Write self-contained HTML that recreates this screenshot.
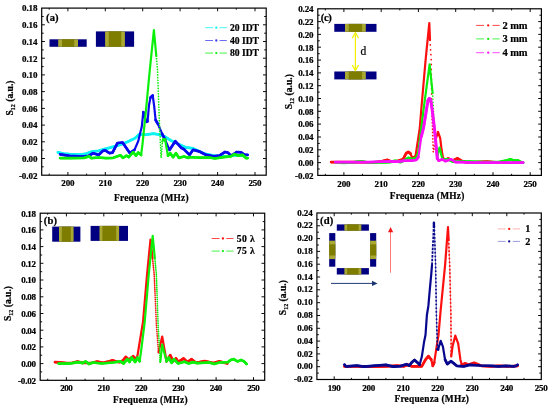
<!DOCTYPE html>
<html><head><meta charset="utf-8"><title>S12 vs Frequenza</title>
<style>
html,body{margin:0;padding:0;background:#fff;}
svg{display:block;font-family:'Liberation Serif','DejaVu Serif',serif;}
text{fill:#000;stroke:#000;stroke-width:0.22px;}
</style></head>
<body>
<svg width="550" height="408" viewBox="0 0 550 408">
<rect width="550" height="408" fill="#fff"/>
<polyline points="57.9,152.3 63.7,153.5 69.5,154.2 81.2,154.6 86.3,153.5 91.4,151.7 98.6,150.8 104.5,149.1 110.3,147.6 120.5,144.7 127.7,141.8 135.0,138.2 138.9,134.6 146.2,134.6 153.5,133.6 159.3,134.6 165.1,136.8 170.9,140.5 178.2,144.1 185.5,147.3 193.1,148.4 198.9,151.3 206.2,154.2 213.5,155.6 220.7,156.4 228.0,156.4 233.8,155.3 238.2,155.5 244.0,155.8" fill="none" stroke="#0af2f2" stroke-width="2.2" stroke-linejoin="round" stroke-linecap="round" />
<polyline points="57.9,152.3 63.7,153.5 69.5,154.2 81.2,154.6 86.3,153.5 91.4,151.7 98.6,150.8 104.5,149.1 110.3,147.6 120.5,144.7 127.7,141.8 135.0,138.2 138.9,134.6 146.2,134.6 153.5,133.6 159.3,134.6 165.1,136.8 170.9,140.5 178.2,144.1 185.5,147.3 193.1,148.4 198.9,151.3 206.2,154.2 213.5,155.6 220.7,156.4 228.0,156.4 233.8,155.3 238.2,155.5 244.0,155.8" fill="none" stroke="#0af2f2" stroke-width="2.75" stroke-linejoin="round" stroke-linecap="round"/>
<polyline points="60.1,154.3 69.5,155.9 82.6,156.5 88.5,155.9 93.1,153.2 98.6,154.9 103.0,150.8 105.2,150.3 109.5,153.2 112.5,152.7 117.5,143.0 122.6,142.5 129.9,153.2 134.5,149.9 138.2,141.2 141.8,126.6 143.3,112.2 144.3,113.5 145.4,119.0 146.6,121.8 147.6,121.5 149.0,105.0 150.5,97.6 152.7,95.5 154.2,106.4 155.6,120.0 157.8,123.7 162.2,133.9 165.1,139.7 169.5,149.9 175.3,141.2 181.1,147.7 184.0,149.2 189.5,154.9 193.1,149.8 198.9,151.3 206.2,154.9 213.5,156.4 219.3,155.6 225.1,152.0 228.0,152.7 230.9,155.6 233.8,154.2 236.7,152.0 241.1,152.3 244.7,154.9 247.6,154.9" fill="none" stroke="#0a0aee" stroke-width="2.2" stroke-linejoin="round" stroke-linecap="round" />
<polyline points="60.1,154.3 69.5,155.9 82.6,156.5 88.5,155.9 93.1,153.2 98.6,154.9 103.0,150.8 105.2,150.3 109.5,153.2 112.5,152.7 117.5,143.0 122.6,142.5 129.9,153.2 134.5,149.9" fill="none" stroke="#0a0aee" stroke-width="2.75" stroke-linejoin="round" stroke-linecap="round"/>
<polyline points="143.3,112.2 144.3,113.5" fill="none" stroke="#0a0aee" stroke-width="2.75" stroke-linejoin="round" stroke-linecap="round"/>
<polyline points="146.6,121.8 147.6,121.5" fill="none" stroke="#0a0aee" stroke-width="2.75" stroke-linejoin="round" stroke-linecap="round"/>
<polyline points="150.5,97.6 152.7,95.5" fill="none" stroke="#0a0aee" stroke-width="2.75" stroke-linejoin="round" stroke-linecap="round"/>
<polyline points="155.6,120.0 157.8,123.7" fill="none" stroke="#0a0aee" stroke-width="2.75" stroke-linejoin="round" stroke-linecap="round"/>
<polyline points="162.2,133.9 165.1,139.7" fill="none" stroke="#0a0aee" stroke-width="2.75" stroke-linejoin="round" stroke-linecap="round"/>
<polyline points="169.5,149.9 175.3,141.2 181.1,147.7 184.0,149.2 189.5,154.9 193.1,149.8 198.9,151.3 206.2,154.9 213.5,156.4 219.3,155.6 225.1,152.0 228.0,152.7 230.9,155.6 233.8,154.2 236.7,152.0 241.1,152.3 244.7,154.9 247.6,154.9" fill="none" stroke="#0a0aee" stroke-width="2.75" stroke-linejoin="round" stroke-linecap="round"/>
<polyline points="60.1,158.1 69.5,158.1 84.1,157.8 89.2,156.4 91.4,158.1 98.6,157.5 105.9,158.1 113.2,157.8 120.5,155.3 122.9,157.9 126.5,155.7 128.7,157.2 133.1,152.1 136.0,155.7 138.2,152.5 141.1,155.0 142.5,144.1 145.5,115.0 149.8,70.0 153.9,30.2 156.3,56.0" fill="none" stroke="#0af00a" stroke-width="2.2" stroke-linejoin="round" stroke-linecap="round" />
<polyline points="60.1,158.1 69.5,158.1 84.1,157.8 89.2,156.4 91.4,158.1 98.6,157.5 105.9,158.1 113.2,157.8 120.5,155.3 122.9,157.9 126.5,155.7 128.7,157.2 133.1,152.1 136.0,155.7 138.2,152.5 141.1,155.0" fill="none" stroke="#0af00a" stroke-width="2.75" stroke-linejoin="round" stroke-linecap="round"/>
<polyline points="156.3,56.0 157.5,70.0 159.3,120.0 161.0,157.2" fill="none" stroke="#0af00a" stroke-width="1.7" stroke-linejoin="round" stroke-linecap="round" stroke-dasharray="0.1 2.6" />
<polyline points="161.3,157.2 162.4,141.5" fill="none" stroke="#0af00a" stroke-width="1.7" stroke-linejoin="round" stroke-linecap="round" stroke-dasharray="0.1 2.6" />
<polyline points="162.4,141.5 163.2,139.4 165.1,139.7 168.0,155.7 170.2,153.1 173.1,157.2 176.0,153.1 178.9,157.9 184.0,156.5 188.4,157.9 188.7,157.1 197.5,157.5 209.1,157.5 214.9,158.5 223.6,157.1 230.9,156.4 234.5,154.2 238.2,155.6 242.5,154.9 246.2,158.1 247.6,158.1" fill="none" stroke="#0af00a" stroke-width="2.2" stroke-linejoin="round" stroke-linecap="round" />
<polyline points="163.2,139.4 165.1,139.7" fill="none" stroke="#0af00a" stroke-width="2.75" stroke-linejoin="round" stroke-linecap="round"/>
<polyline points="168.0,155.7 170.2,153.1 173.1,157.2 176.0,153.1 178.9,157.9 184.0,156.5 188.4,157.9" fill="none" stroke="#0af00a" stroke-width="2.75" stroke-linejoin="round" stroke-linecap="round"/>
<polyline points="188.7,157.1 197.5,157.5 209.1,157.5 214.9,158.5 223.6,157.1 230.9,156.4 234.5,154.2 238.2,155.6 242.5,154.9 246.2,158.1 247.6,158.1" fill="none" stroke="#0af00a" stroke-width="2.75" stroke-linejoin="round" stroke-linecap="round"/>
<rect x="41.7" y="8.1" width="224.5" height="167.1" fill="none" stroke="#000" stroke-width="1.2"/>
<path d="M49.2 8.1v1.6M49.2 175.2v-1.6M67.9 8.1v3.2M67.9 175.2v-3.2M86.6 8.1v1.6M86.6 175.2v-1.6M105.3 8.1v3.2M105.3 175.2v-3.2M124.0 8.1v1.6M124.0 175.2v-1.6M142.7 8.1v3.2M142.7 175.2v-3.2M161.4 8.1v1.6M161.4 175.2v-1.6M180.1 8.1v3.2M180.1 175.2v-3.2M198.9 8.1v1.6M198.9 175.2v-1.6M217.6 8.1v3.2M217.6 175.2v-3.2M236.3 8.1v1.6M236.3 175.2v-1.6M255.0 8.1v3.2M255.0 175.2v-3.2M41.7 166.8h2.0M266.2 166.8h-2.0M41.7 158.5h3.2M266.2 158.5h-3.2M41.7 150.1h2.0M266.2 150.1h-2.0M41.7 141.8h3.2M266.2 141.8h-3.2M41.7 133.4h2.0M266.2 133.4h-2.0M41.7 125.1h3.2M266.2 125.1h-3.2M41.7 116.7h2.0M266.2 116.7h-2.0M41.7 108.4h3.2M266.2 108.4h-3.2M41.7 100.0h2.0M266.2 100.0h-2.0M41.7 91.6h3.2M266.2 91.6h-3.2M41.7 83.3h2.0M266.2 83.3h-2.0M41.7 74.9h3.2M266.2 74.9h-3.2M41.7 66.6h2.0M266.2 66.6h-2.0M41.7 58.2h3.2M266.2 58.2h-3.2M41.7 49.9h2.0M266.2 49.9h-2.0M41.7 41.5h3.2M266.2 41.5h-3.2M41.7 33.2h2.0M266.2 33.2h-2.0M41.7 24.8h3.2M266.2 24.8h-3.2M41.7 16.5h2.0M266.2 16.5h-2.0" stroke="#000" stroke-width="0.95" fill="none"/>
<text x="67.9" y="186.0" font-size="9" font-weight="bold" text-anchor="middle" textLength="13.2" lengthAdjust="spacing" >200</text>
<text x="105.3" y="186.0" font-size="9" font-weight="bold" text-anchor="middle" textLength="13.2" lengthAdjust="spacing" >210</text>
<text x="142.7" y="186.0" font-size="9" font-weight="bold" text-anchor="middle" textLength="13.2" lengthAdjust="spacing" >220</text>
<text x="180.1" y="186.0" font-size="9" font-weight="bold" text-anchor="middle" textLength="13.2" lengthAdjust="spacing" >230</text>
<text x="217.6" y="186.0" font-size="9" font-weight="bold" text-anchor="middle" textLength="13.2" lengthAdjust="spacing" >240</text>
<text x="255.0" y="186.0" font-size="9" font-weight="bold" text-anchor="middle" textLength="13.2" lengthAdjust="spacing" >250</text>
<text x="37.5" y="178.5" font-size="9" font-weight="bold" text-anchor="end" textLength="18.6" lengthAdjust="spacing" >-0.02</text>
<text x="37.5" y="161.8" font-size="9" font-weight="bold" text-anchor="end" textLength="15.4" lengthAdjust="spacing" >0.00</text>
<text x="37.5" y="145.1" font-size="9" font-weight="bold" text-anchor="end" textLength="15.4" lengthAdjust="spacing" >0.02</text>
<text x="37.5" y="128.4" font-size="9" font-weight="bold" text-anchor="end" textLength="15.4" lengthAdjust="spacing" >0.04</text>
<text x="37.5" y="111.7" font-size="9" font-weight="bold" text-anchor="end" textLength="15.4" lengthAdjust="spacing" >0.06</text>
<text x="37.5" y="94.9" font-size="9" font-weight="bold" text-anchor="end" textLength="15.4" lengthAdjust="spacing" >0.08</text>
<text x="37.5" y="78.2" font-size="9" font-weight="bold" text-anchor="end" textLength="15.4" lengthAdjust="spacing" >0.10</text>
<text x="37.5" y="61.5" font-size="9" font-weight="bold" text-anchor="end" textLength="15.4" lengthAdjust="spacing" >0.12</text>
<text x="37.5" y="44.8" font-size="9" font-weight="bold" text-anchor="end" textLength="15.4" lengthAdjust="spacing" >0.14</text>
<text x="37.5" y="28.1" font-size="9" font-weight="bold" text-anchor="end" textLength="15.4" lengthAdjust="spacing" >0.16</text>
<text x="37.5" y="11.4" font-size="9" font-weight="bold" text-anchor="end" textLength="15.4" lengthAdjust="spacing" >0.18</text>
<text x="151.3" y="200.6" font-size="9.4" font-weight="bold" text-anchor="middle" textLength="74.5" lengthAdjust="spacing" >Frequenza (MHz)</text>
<text transform="translate(12.9,98.0) rotate(-90)" font-size="9.6" font-weight="bold" text-anchor="middle">S<tspan font-size="6" dy="2">12</tspan><tspan dy="-2"> (a.u.)</tspan></text>
<text x="46.0" y="21.1" font-size="10.6" font-weight="bold" text-anchor="start" textLength="12.6" lengthAdjust="spacing" >(a)</text>
<rect x="49.5" y="39.3" width="37.2" height="7.5" fill="#000080"/>
<rect x="58.2" y="39.3" width="19.8" height="7.5" fill="#a9a832"/>
<rect x="62.0" y="39.3" width="12.2" height="7.5" fill="#7f7d00"/>
<rect x="95.9" y="31.4" width="38.2" height="15.4" fill="#000080"/>
<rect x="105.1" y="31.4" width="19.8" height="15.4" fill="#a9a832"/>
<rect x="108.8" y="31.4" width="12.4" height="15.4" fill="#7f7d00"/>
<path d="M205.2 27.7H213.0M219.6 27.7H226.8" stroke="#0af2f2" stroke-width="0.9" fill="none" opacity="0.85"/>
<circle cx="216.3" cy="27.7" r="1.15" fill="#0af2f2"/>
<text x="230.0" y="30.9" font-size="9.6" font-weight="bold" text-anchor="start" textLength="29.0" lengthAdjust="spacing" >20 IDT</text>
<path d="M205.2 40.5H213.0M219.6 40.5H226.8" stroke="#3c3cf0" stroke-width="0.9" fill="none" opacity="0.85"/>
<circle cx="216.3" cy="40.5" r="1.15" fill="#3c3cf0"/>
<text x="230.0" y="43.7" font-size="9.6" font-weight="bold" text-anchor="start" textLength="29.0" lengthAdjust="spacing" >40 IDT</text>
<path d="M205.2 53.1H213.0M219.6 53.1H226.8" stroke="#0af00a" stroke-width="0.9" fill="none" opacity="0.85"/>
<circle cx="216.3" cy="53.1" r="1.15" fill="#0af00a"/>
<text x="230.0" y="56.3" font-size="9.6" font-weight="bold" text-anchor="start" textLength="29.0" lengthAdjust="spacing" >80 IDT</text>
<polyline points="55.0,362.1 59.4,362.4 66.6,363.1 72.5,362.8 77.5,361.5 82.6,362.8 91.4,363.0 97.2,361.5 103.0,362.8 108.1,361.7 112.5,360.3 116.8,361.7 119.7,362.2 122.9,360.5 125.8,356.9 128.7,359.8 133.1,356.2 136.0,359.1 137.5,355.5 143.0,322.0 147.0,275.0 150.5,239.5 152.5,258.0" fill="none" stroke="#fc0f0f" stroke-width="2.2" stroke-linejoin="round" stroke-linecap="round" />
<polyline points="55.0,362.1 59.4,362.4 66.6,363.1 72.5,362.8 77.5,361.5 82.6,362.8 91.4,363.0 97.2,361.5 103.0,362.8 108.1,361.7 112.5,360.3 116.8,361.7 119.7,362.2 122.9,360.5 125.8,356.9 128.7,359.8 133.1,356.2 136.0,359.1" fill="none" stroke="#fc0f0f" stroke-width="2.75" stroke-linejoin="round" stroke-linecap="round"/>
<polyline points="152.5,258.0 154.2,275.0 155.0,293.0" fill="none" stroke="#fc0f0f" stroke-width="1.7" stroke-linejoin="round" stroke-linecap="round" stroke-dasharray="0.1 1.75" />
<polyline points="155.0,293.0 156.4,325.0 158.5,352.5" fill="none" stroke="#fc0f0f" stroke-width="1.7" stroke-linejoin="round" stroke-linecap="round" stroke-dasharray="0.1 2.05" />
<polyline points="158.5,352.5 162.2,336.5 166.5,361.3 170.2,355.2 173.1,361.3 176.0,358.4 178.2,362.0 183.6,358.5 187.3,362.1 191.6,359.2 196.0,362.8 204.7,361.1 213.5,363.1 219.3,361.4 227.3,363.5" fill="none" stroke="#fc0f0f" stroke-width="2.2" stroke-linejoin="round" stroke-linecap="round" />
<polyline points="166.5,361.3 170.2,355.2 173.1,361.3 176.0,358.4 178.2,362.0 183.6,358.5 187.3,362.1 191.6,359.2 196.0,362.8 204.7,361.1 213.5,363.1 219.3,361.4 227.3,363.5" fill="none" stroke="#fc0f0f" stroke-width="2.75" stroke-linejoin="round" stroke-linecap="round"/>
<polyline points="58.6,363.5 69.5,363.5 73.9,362.8 78.3,362.1 82.6,363.1 85.5,361.4 89.2,364.0 92.8,362.5 101.5,363.5 113.2,362.5 120.5,361.4 123.6,363.5 127.3,359.1 129.5,362.0 131.6,357.6 135.3,362.0 137.5,357.6 139.6,361.3 141.1,351.1 144.7,322.0 148.7,275.0 152.7,235.9 154.8,258.0" fill="none" stroke="#0af00a" stroke-width="2.2" stroke-linejoin="round" stroke-linecap="round" />
<polyline points="58.6,363.5 69.5,363.5 73.9,362.8 78.3,362.1 82.6,363.1 85.5,361.4 89.2,364.0 92.8,362.5 101.5,363.5 113.2,362.5 120.5,361.4 123.6,363.5 127.3,359.1 129.5,362.0 131.6,357.6 135.3,362.0 137.5,357.6 139.6,361.3" fill="none" stroke="#0af00a" stroke-width="2.75" stroke-linejoin="round" stroke-linecap="round"/>
<polyline points="154.8,258.0 156.4,275.0 157.0,293.0" fill="none" stroke="#0af00a" stroke-width="1.7" stroke-linejoin="round" stroke-linecap="round" stroke-dasharray="0.1 1.75" />
<polyline points="157.0,293.0 158.1,325.0 160.3,362.0" fill="none" stroke="#0af00a" stroke-width="1.7" stroke-linejoin="round" stroke-linecap="round" stroke-dasharray="0.1 2.05" />
<polyline points="160.3,362.0 162.2,344.5 166.5,361.3 168.7,357.6 171.6,362.7 173.8,359.1 178.2,363.5 184.4,361.7 188.7,363.5 193.1,362.1 197.5,363.1 209.1,362.5 214.2,364.0 219.3,362.5 228.0,362.1 230.9,359.9 233.8,359.2 237.5,361.4 241.1,359.9 244.0,361.4 246.6,364.0" fill="none" stroke="#0af00a" stroke-width="2.2" stroke-linejoin="round" stroke-linecap="round" />
<polyline points="166.5,361.3 168.7,357.6 171.6,362.7 173.8,359.1 178.2,363.5 184.4,361.7 188.7,363.5 193.1,362.1 197.5,363.1 209.1,362.5 214.2,364.0 219.3,362.5 228.0,362.1 230.9,359.9 233.8,359.2 237.5,361.4 241.1,359.9 244.0,361.4 246.6,364.0" fill="none" stroke="#0af00a" stroke-width="2.75" stroke-linejoin="round" stroke-linecap="round"/>
<rect x="40.2" y="213.2" width="224.5" height="167.1" fill="none" stroke="#000" stroke-width="1.2"/>
<path d="M47.7 213.2v1.6M47.7 380.3v-1.6M66.4 213.2v3.2M66.4 380.3v-3.2M85.1 213.2v1.6M85.1 380.3v-1.6M103.8 213.2v3.2M103.8 380.3v-3.2M122.5 213.2v1.6M122.5 380.3v-1.6M141.2 213.2v3.2M141.2 380.3v-3.2M159.9 213.2v1.6M159.9 380.3v-1.6M178.6 213.2v3.2M178.6 380.3v-3.2M197.4 213.2v1.6M197.4 380.3v-1.6M216.1 213.2v3.2M216.1 380.3v-3.2M234.8 213.2v1.6M234.8 380.3v-1.6M253.5 213.2v3.2M253.5 380.3v-3.2M40.2 371.9h2.0M264.7 371.9h-2.0M40.2 363.6h3.2M264.7 363.6h-3.2M40.2 355.2h2.0M264.7 355.2h-2.0M40.2 346.9h3.2M264.7 346.9h-3.2M40.2 338.5h2.0M264.7 338.5h-2.0M40.2 330.2h3.2M264.7 330.2h-3.2M40.2 321.8h2.0M264.7 321.8h-2.0M40.2 313.5h3.2M264.7 313.5h-3.2M40.2 305.1h2.0M264.7 305.1h-2.0M40.2 296.8h3.2M264.7 296.8h-3.2M40.2 288.4h2.0M264.7 288.4h-2.0M40.2 280.0h3.2M264.7 280.0h-3.2M40.2 271.7h2.0M264.7 271.7h-2.0M40.2 263.3h3.2M264.7 263.3h-3.2M40.2 255.0h2.0M264.7 255.0h-2.0M40.2 246.6h3.2M264.7 246.6h-3.2M40.2 238.3h2.0M264.7 238.3h-2.0M40.2 229.9h3.2M264.7 229.9h-3.2M40.2 221.6h2.0M264.7 221.6h-2.0" stroke="#000" stroke-width="0.95" fill="none"/>
<text x="66.4" y="390.8" font-size="9" font-weight="bold" text-anchor="middle" textLength="12.5" lengthAdjust="spacing" >200</text>
<text x="103.8" y="390.8" font-size="9" font-weight="bold" text-anchor="middle" textLength="12.5" lengthAdjust="spacing" >210</text>
<text x="141.2" y="390.8" font-size="9" font-weight="bold" text-anchor="middle" textLength="12.5" lengthAdjust="spacing" >220</text>
<text x="178.6" y="390.8" font-size="9" font-weight="bold" text-anchor="middle" textLength="12.5" lengthAdjust="spacing" >230</text>
<text x="216.1" y="390.8" font-size="9" font-weight="bold" text-anchor="middle" textLength="12.5" lengthAdjust="spacing" >240</text>
<text x="253.5" y="390.8" font-size="9" font-weight="bold" text-anchor="middle" textLength="12.5" lengthAdjust="spacing" >250</text>
<text x="36.0" y="383.6" font-size="9" font-weight="bold" text-anchor="end" textLength="18.0" lengthAdjust="spacing" >-0.02</text>
<text x="36.0" y="366.9" font-size="9" font-weight="bold" text-anchor="end" textLength="14.8" lengthAdjust="spacing" >0.00</text>
<text x="36.0" y="350.2" font-size="9" font-weight="bold" text-anchor="end" textLength="14.8" lengthAdjust="spacing" >0.02</text>
<text x="36.0" y="333.5" font-size="9" font-weight="bold" text-anchor="end" textLength="14.8" lengthAdjust="spacing" >0.04</text>
<text x="36.0" y="316.8" font-size="9" font-weight="bold" text-anchor="end" textLength="14.8" lengthAdjust="spacing" >0.06</text>
<text x="36.0" y="300.1" font-size="9" font-weight="bold" text-anchor="end" textLength="14.8" lengthAdjust="spacing" >0.08</text>
<text x="36.0" y="283.3" font-size="9" font-weight="bold" text-anchor="end" textLength="14.8" lengthAdjust="spacing" >0.10</text>
<text x="36.0" y="266.6" font-size="9" font-weight="bold" text-anchor="end" textLength="14.8" lengthAdjust="spacing" >0.12</text>
<text x="36.0" y="249.9" font-size="9" font-weight="bold" text-anchor="end" textLength="14.8" lengthAdjust="spacing" >0.14</text>
<text x="36.0" y="233.2" font-size="9" font-weight="bold" text-anchor="end" textLength="14.8" lengthAdjust="spacing" >0.16</text>
<text x="36.0" y="216.5" font-size="9" font-weight="bold" text-anchor="end" textLength="14.8" lengthAdjust="spacing" >0.18</text>
<text x="150.3" y="402.5" font-size="9.4" font-weight="bold" text-anchor="middle" textLength="74.5" lengthAdjust="spacing" >Frequenza (MHz)</text>
<text transform="translate(11.4,303.5) rotate(-90)" font-size="9.6" font-weight="bold" text-anchor="middle">S<tspan font-size="6" dy="2">12</tspan><tspan dy="-2"> (a.u.)</tspan></text>
<text x="43.8" y="224.4" font-size="10.6" font-weight="bold" text-anchor="start" textLength="13.3" lengthAdjust="spacing" >(b)</text>
<rect x="52.2" y="226.6" width="28.2" height="15.1" fill="#000080"/>
<rect x="59.0" y="226.6" width="14.6" height="15.1" fill="#a9a832"/>
<rect x="61.8" y="226.6" width="9.0" height="15.1" fill="#7f7d00"/>
<rect x="90.6" y="225.9" width="37.4" height="15.0" fill="#000080"/>
<rect x="99.5" y="225.9" width="19.6" height="15.0" fill="#a9a832"/>
<rect x="102.4" y="225.9" width="13.8" height="15.0" fill="#7f7d00"/>
<path d="M211.7 238.5H219.5M226.3 238.5H233.5" stroke="#fc0f0f" stroke-width="0.9" fill="none" opacity="0.85"/>
<circle cx="222.9" cy="238.5" r="1.15" fill="#fc0f0f"/>
<text x="236.7" y="241.7" font-size="9.6" font-weight="bold" text-anchor="start" textLength="17.9" lengthAdjust="spacing" >50 λ</text>
<path d="M211.7 251.1H219.5M226.3 251.1H233.5" stroke="#0af00a" stroke-width="0.9" fill="none" opacity="0.85"/>
<circle cx="222.9" cy="251.1" r="1.15" fill="#0af00a"/>
<text x="236.7" y="254.3" font-size="9.6" font-weight="bold" text-anchor="start" textLength="17.9" lengthAdjust="spacing" >75 λ</text>
<polyline points="331.1,162.1 346.8,162.1 361.4,162.1 373.0,162.5 381.7,161.4 387.5,159.9 391.9,161.7 395.8,161.5 403.1,159.3 406.0,153.5 408.2,152.0 410.4,153.5 412.5,158.5 415.5,156.4 417.6,142.5 419.8,128.0 421.4,108.0 425.6,60.0 429.3,23.1 430.0,40.0" fill="none" stroke="#fc0f0f" stroke-width="2.2" stroke-linejoin="round" stroke-linecap="round" />
<polyline points="331.1,162.1 346.8,162.1 361.4,162.1 373.0,162.5 381.7,161.4 387.5,159.9 391.9,161.7 395.8,161.5 403.1,159.3 406.0,153.5 408.2,152.0 410.4,153.5" fill="none" stroke="#fc0f0f" stroke-width="2.75" stroke-linejoin="round" stroke-linecap="round"/>
<polyline points="412.5,158.5 415.5,156.4" fill="none" stroke="#fc0f0f" stroke-width="2.75" stroke-linejoin="round" stroke-linecap="round"/>
<polyline points="430.0,40.0 431.2,60.0 431.8,110.0" fill="none" stroke="#fc0f0f" stroke-width="1.7" stroke-linejoin="round" stroke-linecap="round" stroke-dasharray="0.1 4.8" />
<polyline points="431.8,110.0 433.3,152.0 434.6,146.0" fill="none" stroke="#fc0f0f" stroke-width="1.7" stroke-linejoin="round" stroke-linecap="round" stroke-dasharray="0.1 3.1" />
<polyline points="435.5,140.0 438.0,131.9 440.2,138.2 441.6,149.8 443.1,158.5 445.3,160.0 448.2,158.5 452.5,160.7 457.6,158.3 461.3,160.7 465.6,162.2 470.0,162.6 476.8,162.2 487.0,161.7 498.6,162.6 504.6,162.6" fill="none" stroke="#fc0f0f" stroke-width="2.2" stroke-linejoin="round" stroke-linecap="round" />
<polyline points="443.1,158.5 445.3,160.0 448.2,158.5 452.5,160.7 457.6,158.3 461.3,160.7 465.6,162.2 470.0,162.6 476.8,162.2 487.0,161.7 498.6,162.6 504.6,162.6" fill="none" stroke="#fc0f0f" stroke-width="2.75" stroke-linejoin="round" stroke-linecap="round"/>
<polyline points="335.9,162.4 343.9,162.8 354.1,162.1 361.4,161.4 368.6,162.5 375.9,162.1 383.2,162.5 390.0,162.1 395.8,160.7 400.2,162.2 404.5,160.3 408.2,157.8 411.8,159.3 416.2,157.8 418.4,151.3 421.3,128.0 423.5,110.0 429.6,64.4 432.6,93.0" fill="none" stroke="#0af00a" stroke-width="2.2" stroke-linejoin="round" stroke-linecap="round" />
<polyline points="335.9,162.4 343.9,162.8 354.1,162.1 361.4,161.4 368.6,162.5 375.9,162.1 383.2,162.5 390.0,162.1 395.8,160.7 400.2,162.2 404.5,160.3 408.2,157.8 411.8,159.3 416.2,157.8" fill="none" stroke="#0af00a" stroke-width="2.75" stroke-linejoin="round" stroke-linecap="round"/>
<polyline points="432.6,93.0 434.4,128.0 436.0,145.0 437.1,157.5" fill="none" stroke="#0af00a" stroke-width="1.6" stroke-linejoin="round" stroke-linecap="round" stroke-dasharray="0.1 3.0" />
<polyline points="437.2,157.5 438.3,152.0 439.5,147.6 442.4,159.3 448.2,159.3 452.5,161.5 470.0,161.5 484.1,162.2 498.6,162.2 505.9,160.7 510.3,159.3 514.6,160.7 517.5,160.3 521.2,162.2 523.1,162.6" fill="none" stroke="#0af00a" stroke-width="2.2" stroke-linejoin="round" stroke-linecap="round" />
<polyline points="442.4,159.3 448.2,159.3 452.5,161.5 470.0,161.5 484.1,162.2 498.6,162.2 505.9,160.7 510.3,159.3 514.6,160.7 517.5,160.3 521.2,162.2 523.1,162.6" fill="none" stroke="#0af00a" stroke-width="2.75" stroke-linejoin="round" stroke-linecap="round"/>
<polyline points="335.2,162.1 354.1,162.1 368.6,162.1 383.2,161.7 390.0,161.4 398.7,161.7 404.5,160.7 411.8,160.7 416.2,160.0 418.4,157.1 421.3,136.7 423.5,128.0 426.4,110.0 428.0,100.5 429.3,98.5 430.8,100.5 432.2,110.0 434.4,128.0 435.8,142.5 437.3,158.5 438.7,160.7 442.4,159.3 445.3,161.2 451.1,159.3 455.5,162.2 462.7,162.2 470.0,162.6 470.0,162.5 523.1,162.5" fill="none" stroke="#f80ff8" stroke-width="2.2" stroke-linejoin="round" stroke-linecap="round" />
<polyline points="335.2,162.1 354.1,162.1 368.6,162.1 383.2,161.7 390.0,161.4 398.7,161.7 404.5,160.7 411.8,160.7 416.2,160.0 418.4,157.1" fill="none" stroke="#f80ff8" stroke-width="2.75" stroke-linejoin="round" stroke-linecap="round"/>
<polyline points="428.0,100.5 429.3,98.5 430.8,100.5" fill="none" stroke="#f80ff8" stroke-width="2.75" stroke-linejoin="round" stroke-linecap="round"/>
<polyline points="437.3,158.5 438.7,160.7 442.4,159.3 445.3,161.2 451.1,159.3 455.5,162.2 462.7,162.2 470.0,162.6" fill="none" stroke="#f80ff8" stroke-width="2.75" stroke-linejoin="round" stroke-linecap="round"/>
<polyline points="470.0,162.5 523.1,162.5" fill="none" stroke="#f80ff8" stroke-width="2.75" stroke-linejoin="round" stroke-linecap="round"/>
<polyline points="421.3,136.7 423.5,128.0 426.4,110.0 428.0,100.5 429.3,98.5 430.8,100.5 432.2,110.0 434.4,128.0 435.8,142.5 437.3,158.5" fill="none" stroke="#f80ff8" stroke-width="3.0" stroke-linejoin="round" stroke-linecap="round" />
<polyline points="428.0,100.5 429.3,98.5 430.8,100.5" fill="none" stroke="#f80ff8" stroke-width="2.75" stroke-linejoin="round" stroke-linecap="round"/>
<rect x="317.8" y="8.8" width="223.6" height="166.6" fill="none" stroke="#000" stroke-width="1.2"/>
<path d="M325.3 8.8v1.6M325.3 175.4v-1.6M343.9 8.8v3.2M343.9 175.4v-3.2M362.5 8.8v1.6M362.5 175.4v-1.6M381.2 8.8v3.2M381.2 175.4v-3.2M399.8 8.8v1.6M399.8 175.4v-1.6M418.4 8.8v3.2M418.4 175.4v-3.2M437.1 8.8v1.6M437.1 175.4v-1.6M455.7 8.8v3.2M455.7 175.4v-3.2M474.3 8.8v1.6M474.3 175.4v-1.6M493.0 8.8v3.2M493.0 175.4v-3.2M511.6 8.8v1.6M511.6 175.4v-1.6M530.2 8.8v3.2M530.2 175.4v-3.2M317.8 169.0h2.0M541.4 169.0h-2.0M317.8 162.6h3.2M541.4 162.6h-3.2M317.8 156.2h2.0M541.4 156.2h-2.0M317.8 149.8h3.2M541.4 149.8h-3.2M317.8 143.4h2.0M541.4 143.4h-2.0M317.8 137.0h3.2M541.4 137.0h-3.2M317.8 130.5h2.0M541.4 130.5h-2.0M317.8 124.1h3.2M541.4 124.1h-3.2M317.8 117.7h2.0M541.4 117.7h-2.0M317.8 111.3h3.2M541.4 111.3h-3.2M317.8 104.9h2.0M541.4 104.9h-2.0M317.8 98.5h3.2M541.4 98.5h-3.2M317.8 92.1h2.0M541.4 92.1h-2.0M317.8 85.7h3.2M541.4 85.7h-3.2M317.8 79.3h2.0M541.4 79.3h-2.0M317.8 72.9h3.2M541.4 72.9h-3.2M317.8 66.5h2.0M541.4 66.5h-2.0M317.8 60.1h3.2M541.4 60.1h-3.2M317.8 53.7h2.0M541.4 53.7h-2.0M317.8 47.2h3.2M541.4 47.2h-3.2M317.8 40.8h2.0M541.4 40.8h-2.0M317.8 34.4h3.2M541.4 34.4h-3.2M317.8 28.0h2.0M541.4 28.0h-2.0M317.8 21.6h3.2M541.4 21.6h-3.2M317.8 15.2h2.0M541.4 15.2h-2.0" stroke="#000" stroke-width="0.95" fill="none"/>
<text x="343.9" y="186.5" font-size="9" font-weight="bold" text-anchor="middle" textLength="13.2" lengthAdjust="spacing" >200</text>
<text x="381.2" y="186.5" font-size="9" font-weight="bold" text-anchor="middle" textLength="13.2" lengthAdjust="spacing" >210</text>
<text x="418.4" y="186.5" font-size="9" font-weight="bold" text-anchor="middle" textLength="13.2" lengthAdjust="spacing" >220</text>
<text x="455.7" y="186.5" font-size="9" font-weight="bold" text-anchor="middle" textLength="13.2" lengthAdjust="spacing" >230</text>
<text x="493.0" y="186.5" font-size="9" font-weight="bold" text-anchor="middle" textLength="13.2" lengthAdjust="spacing" >240</text>
<text x="530.2" y="186.5" font-size="9" font-weight="bold" text-anchor="middle" textLength="13.2" lengthAdjust="spacing" >250</text>
<text x="313.6" y="178.7" font-size="9" font-weight="bold" text-anchor="end" textLength="18.6" lengthAdjust="spacing" >-0.02</text>
<text x="313.6" y="165.9" font-size="9" font-weight="bold" text-anchor="end" textLength="15.4" lengthAdjust="spacing" >0.00</text>
<text x="313.6" y="153.1" font-size="9" font-weight="bold" text-anchor="end" textLength="15.4" lengthAdjust="spacing" >0.02</text>
<text x="313.6" y="140.3" font-size="9" font-weight="bold" text-anchor="end" textLength="15.4" lengthAdjust="spacing" >0.04</text>
<text x="313.6" y="127.4" font-size="9" font-weight="bold" text-anchor="end" textLength="15.4" lengthAdjust="spacing" >0.06</text>
<text x="313.6" y="114.6" font-size="9" font-weight="bold" text-anchor="end" textLength="15.4" lengthAdjust="spacing" >0.08</text>
<text x="313.6" y="101.8" font-size="9" font-weight="bold" text-anchor="end" textLength="15.4" lengthAdjust="spacing" >0.10</text>
<text x="313.6" y="89.0" font-size="9" font-weight="bold" text-anchor="end" textLength="15.4" lengthAdjust="spacing" >0.12</text>
<text x="313.6" y="76.2" font-size="9" font-weight="bold" text-anchor="end" textLength="15.4" lengthAdjust="spacing" >0.14</text>
<text x="313.6" y="63.4" font-size="9" font-weight="bold" text-anchor="end" textLength="15.4" lengthAdjust="spacing" >0.16</text>
<text x="313.6" y="50.5" font-size="9" font-weight="bold" text-anchor="end" textLength="15.4" lengthAdjust="spacing" >0.18</text>
<text x="313.6" y="37.7" font-size="9" font-weight="bold" text-anchor="end" textLength="15.4" lengthAdjust="spacing" >0.20</text>
<text x="313.6" y="24.9" font-size="9" font-weight="bold" text-anchor="end" textLength="15.4" lengthAdjust="spacing" >0.22</text>
<text x="313.6" y="12.1" font-size="9" font-weight="bold" text-anchor="end" textLength="15.4" lengthAdjust="spacing" >0.24</text>
<text x="427.0" y="198.8" font-size="9.4" font-weight="bold" text-anchor="middle" textLength="74.5" lengthAdjust="spacing" >Frequenza (MHz)</text>
<text transform="translate(292.2,91.7) rotate(-90)" font-size="9.6" font-weight="bold" text-anchor="middle">S<tspan font-size="6" dy="2">12</tspan><tspan dy="-2"> (a.u.)</tspan></text>
<text x="320.8" y="21.1" font-size="10.6" font-weight="bold" text-anchor="start" textLength="11.0" lengthAdjust="spacing" >(c)</text>
<rect x="334.3" y="23.9" width="42.2" height="7.9" fill="#000080"/>
<rect x="345.0" y="23.9" width="20.8" height="7.9" fill="#a9a832"/>
<rect x="348.7" y="23.9" width="13.4" height="7.9" fill="#7f7d00"/>
<rect x="334.3" y="71.5" width="42.2" height="7.9" fill="#000080"/>
<rect x="345.0" y="71.5" width="20.8" height="7.9" fill="#a9a832"/>
<rect x="348.7" y="71.5" width="13.4" height="7.9" fill="#7f7d00"/>
<path d="M355.4 34.5V69" stroke="#f2f200" stroke-width="1.2" fill="none"/>
<path d="M355.4 32.6l-2.9 5.2M355.4 32.6l2.9 5.2M355.4 70.6l-2.9 -5.2M355.4 70.6l2.9 -5.2" stroke="#f2f200" stroke-width="1.2" fill="none" stroke-linecap="round"/>
<text x="360.6" y="55.2" font-size="11.5" font-weight="normal" text-anchor="start" stroke="none">d</text>
<path d="M476.2 25.4H484.0M492.5 25.4H499.7" stroke="#fc0f0f" stroke-width="0.9" fill="none" opacity="0.85"/>
<circle cx="488.2" cy="25.4" r="1.15" fill="#fc0f0f"/>
<text x="502.6" y="28.9" font-size="10.5" font-weight="bold" text-anchor="start" textLength="25.0" lengthAdjust="spacing" >2 mm</text>
<path d="M476.2 38.9H484.0M492.5 38.9H499.7" stroke="#0af00a" stroke-width="0.9" fill="none" opacity="0.85"/>
<circle cx="488.2" cy="38.9" r="1.15" fill="#0af00a"/>
<text x="502.6" y="42.4" font-size="10.5" font-weight="bold" text-anchor="start" textLength="25.0" lengthAdjust="spacing" >3 mm</text>
<path d="M476.2 52.7H484.0M492.5 52.7H499.7" stroke="#f80ff8" stroke-width="0.9" fill="none" opacity="0.85"/>
<circle cx="488.2" cy="52.7" r="1.15" fill="#f80ff8"/>
<text x="502.6" y="56.2" font-size="10.5" font-weight="bold" text-anchor="start" textLength="25.0" lengthAdjust="spacing" >4 mm</text>
<polyline points="344.5,366.4 356.8,366.4 371.4,366.7 385.9,366.4 397.5,365.6 403.4,366.4 407.7,364.9 412.1,366.4 414.5,366.3 421.8,366.3 425.5,359.7 428.4,356.1 431.3,359.7 432.7,365.8 434.2,362.6 437.1,343.7 438.5,335.0 440.5,312.0 445.1,265.0 448.0,227.2 448.6,240.0" fill="none" stroke="#fc0f0f" stroke-width="2.2" stroke-linejoin="round" stroke-linecap="round" />
<polyline points="344.5,366.4 356.8,366.4 371.4,366.7 385.9,366.4 397.5,365.6 403.4,366.4 407.7,364.9 412.1,366.4 414.5,366.3 421.8,366.3 425.5,359.7 428.4,356.1 431.3,359.7" fill="none" stroke="#fc0f0f" stroke-width="2.75" stroke-linejoin="round" stroke-linecap="round"/>
<polyline points="432.7,365.8 434.2,362.6" fill="none" stroke="#fc0f0f" stroke-width="2.75" stroke-linejoin="round" stroke-linecap="round"/>
<polyline points="448.6,240.0 449.7,265.0 450.9,315.0 451.2,356.5" fill="none" stroke="#fc0f0f" stroke-width="0.8" stroke-linejoin="round" stroke-linecap="round" opacity="0.7"/>
<polyline points="448.6,240.0 449.7,265.0 450.9,315.0 451.2,356.5" fill="none" stroke="#fc0f0f" stroke-width="1.8" stroke-linejoin="round" stroke-linecap="round" stroke-dasharray="0.1 3.6" />
<polyline points="451.2,356.5 452.6,346.0 455.3,335.5 458.2,343.7 460.4,359.7 461.8,364.8 465.5,363.4 468.4,364.8 474.2,362.9 474.6,362.9 481.2,365.8 491.4,366.3 498.6,365.8 510.3,366.3 517.5,365.8" fill="none" stroke="#fc0f0f" stroke-width="2.2" stroke-linejoin="round" stroke-linecap="round" />
<polyline points="461.8,364.8 465.5,363.4 468.4,364.8 474.2,362.9 474.6,362.9 481.2,365.8 491.4,366.3 498.6,365.8 510.3,366.3 517.5,365.8" fill="none" stroke="#fc0f0f" stroke-width="2.75" stroke-linejoin="round" stroke-linecap="round"/>
<polyline points="344.5,364.6 345.5,366.1 346.6,366.4 356.8,365.6 364.1,366.7 375.7,365.6 385.9,364.9 393.2,366.7 400.5,366.1 406.3,364.2 409.2,365.6 411.6,362.6 414.5,360.0 417.5,362.6 419.6,364.8 421.8,356.8 424.0,342.3 425.5,335.0 426.9,315.0 428.4,305.7 429.8,289.7 431.3,273.7 432.0,265.0" fill="none" stroke="#08088e" stroke-width="2.2" stroke-linejoin="round" stroke-linecap="round" />
<polyline points="344.5,364.6 345.5,366.1 346.6,366.4 356.8,365.6 364.1,366.7 375.7,365.6 385.9,364.9 393.2,366.7 400.5,366.1 406.3,364.2 409.2,365.6 411.6,362.6 414.5,360.0 417.5,362.6 419.6,364.8" fill="none" stroke="#08088e" stroke-width="2.75" stroke-linejoin="round" stroke-linecap="round"/>
<polyline points="432.0,265.0 432.9,245.0 433.6,230.0 433.9,222.5" fill="none" stroke="#08088e" stroke-width="1.8" stroke-linejoin="round" stroke-linecap="butt" stroke-dasharray="2.6 1.1" />
<polyline points="433.9,222.6 434.0,227.0" fill="none" stroke="#08088e" stroke-width="2.4" stroke-linejoin="round" stroke-linecap="round" />
<polyline points="434.2,223.0 435.6,265.0 436.4,315.0 437.5,349.3" fill="none" stroke="#08088e" stroke-width="0.8" stroke-linejoin="round" stroke-linecap="round" opacity="0.7"/>
<polyline points="434.2,223.0 435.6,265.0 436.4,315.0 437.5,349.3" fill="none" stroke="#08088e" stroke-width="1.8" stroke-linejoin="round" stroke-linecap="round" stroke-dasharray="0.1 3.6" />
<polyline points="437.5,349.3 438.1,349.5 440.7,340.8 442.9,346.6 445.1,359.7 447.3,364.1 450.9,361.2 453.8,363.4 456.7,365.8 464.0,366.3 469.8,364.8 480.0,365.5 491.4,365.8 498.6,366.3 505.9,365.8 513.2,366.3 516.1,365.8 517.5,364.8" fill="none" stroke="#08088e" stroke-width="2.2" stroke-linejoin="round" stroke-linecap="round" />
<polyline points="437.5,349.3 438.1,349.5" fill="none" stroke="#08088e" stroke-width="2.75" stroke-linejoin="round" stroke-linecap="round"/>
<polyline points="445.1,359.7 447.3,364.1 450.9,361.2 453.8,363.4 456.7,365.8 464.0,366.3 469.8,364.8 480.0,365.5 491.4,365.8 498.6,366.3 505.9,365.8 513.2,366.3 516.1,365.8 517.5,364.8" fill="none" stroke="#08088e" stroke-width="2.75" stroke-linejoin="round" stroke-linecap="round"/>
<rect x="316.9" y="213.0" width="224.4" height="166.5" fill="none" stroke="#000" stroke-width="1.2"/>
<path d="M334.2 213.0v3.2M334.2 379.5v-3.2M351.4 213.0v1.6M351.4 379.5v-1.6M368.7 213.0v3.2M368.7 379.5v-3.2M385.9 213.0v1.6M385.9 379.5v-1.6M403.2 213.0v3.2M403.2 379.5v-3.2M420.5 213.0v1.6M420.5 379.5v-1.6M437.7 213.0v3.2M437.7 379.5v-3.2M455.0 213.0v1.6M455.0 379.5v-1.6M472.3 213.0v3.2M472.3 379.5v-3.2M489.5 213.0v1.6M489.5 379.5v-1.6M506.8 213.0v3.2M506.8 379.5v-3.2M524.0 213.0v1.6M524.0 379.5v-1.6M316.9 373.1h2.0M541.3 373.1h-2.0M316.9 366.7h3.2M541.3 366.7h-3.2M316.9 360.3h2.0M541.3 360.3h-2.0M316.9 353.9h3.2M541.3 353.9h-3.2M316.9 347.5h2.0M541.3 347.5h-2.0M316.9 341.1h3.2M541.3 341.1h-3.2M316.9 334.7h2.0M541.3 334.7h-2.0M316.9 328.3h3.2M541.3 328.3h-3.2M316.9 321.9h2.0M541.3 321.9h-2.0M316.9 315.5h3.2M541.3 315.5h-3.2M316.9 309.1h2.0M541.3 309.1h-2.0M316.9 302.7h3.2M541.3 302.7h-3.2M316.9 296.2h2.0M541.3 296.2h-2.0M316.9 289.8h3.2M541.3 289.8h-3.2M316.9 283.4h2.0M541.3 283.4h-2.0M316.9 277.0h3.2M541.3 277.0h-3.2M316.9 270.6h2.0M541.3 270.6h-2.0M316.9 264.2h3.2M541.3 264.2h-3.2M316.9 257.8h2.0M541.3 257.8h-2.0M316.9 251.4h3.2M541.3 251.4h-3.2M316.9 245.0h2.0M541.3 245.0h-2.0M316.9 238.6h3.2M541.3 238.6h-3.2M316.9 232.2h2.0M541.3 232.2h-2.0M316.9 225.8h3.2M541.3 225.8h-3.2M316.9 219.4h2.0M541.3 219.4h-2.0" stroke="#000" stroke-width="0.95" fill="none"/>
<text x="334.2" y="390.8" font-size="9" font-weight="bold" text-anchor="middle" textLength="13.0" lengthAdjust="spacing" >190</text>
<text x="368.7" y="390.8" font-size="9" font-weight="bold" text-anchor="middle" textLength="13.0" lengthAdjust="spacing" >200</text>
<text x="403.2" y="390.8" font-size="9" font-weight="bold" text-anchor="middle" textLength="13.0" lengthAdjust="spacing" >210</text>
<text x="437.7" y="390.8" font-size="9" font-weight="bold" text-anchor="middle" textLength="13.0" lengthAdjust="spacing" >220</text>
<text x="472.3" y="390.8" font-size="9" font-weight="bold" text-anchor="middle" textLength="13.0" lengthAdjust="spacing" >230</text>
<text x="506.8" y="390.8" font-size="9" font-weight="bold" text-anchor="middle" textLength="13.0" lengthAdjust="spacing" >240</text>
<text x="541.3" y="390.8" font-size="9" font-weight="bold" text-anchor="middle" textLength="13.0" lengthAdjust="spacing" >250</text>
<text x="312.7" y="382.1" font-size="9" font-weight="bold" text-anchor="end" textLength="18.6" lengthAdjust="spacing" >-0.02</text>
<text x="312.7" y="369.3" font-size="9" font-weight="bold" text-anchor="end" textLength="15.4" lengthAdjust="spacing" >0.00</text>
<text x="312.7" y="356.5" font-size="9" font-weight="bold" text-anchor="end" textLength="15.4" lengthAdjust="spacing" >0.02</text>
<text x="312.7" y="343.7" font-size="9" font-weight="bold" text-anchor="end" textLength="15.4" lengthAdjust="spacing" >0.04</text>
<text x="312.7" y="330.9" font-size="9" font-weight="bold" text-anchor="end" textLength="15.4" lengthAdjust="spacing" >0.06</text>
<text x="312.7" y="318.1" font-size="9" font-weight="bold" text-anchor="end" textLength="15.4" lengthAdjust="spacing" >0.08</text>
<text x="312.7" y="305.3" font-size="9" font-weight="bold" text-anchor="end" textLength="15.4" lengthAdjust="spacing" >0.10</text>
<text x="312.7" y="292.4" font-size="9" font-weight="bold" text-anchor="end" textLength="15.4" lengthAdjust="spacing" >0.12</text>
<text x="312.7" y="279.6" font-size="9" font-weight="bold" text-anchor="end" textLength="15.4" lengthAdjust="spacing" >0.14</text>
<text x="312.7" y="266.8" font-size="9" font-weight="bold" text-anchor="end" textLength="15.4" lengthAdjust="spacing" >0.16</text>
<text x="312.7" y="254.0" font-size="9" font-weight="bold" text-anchor="end" textLength="15.4" lengthAdjust="spacing" >0.18</text>
<text x="312.7" y="241.2" font-size="9" font-weight="bold" text-anchor="end" textLength="15.4" lengthAdjust="spacing" >0.20</text>
<text x="312.7" y="228.4" font-size="9" font-weight="bold" text-anchor="end" textLength="15.4" lengthAdjust="spacing" >0.22</text>
<text x="312.7" y="215.6" font-size="9" font-weight="bold" text-anchor="end" textLength="15.4" lengthAdjust="spacing" >0.24</text>
<text x="431.7" y="402.0" font-size="9.4" font-weight="bold" text-anchor="middle" textLength="74.5" lengthAdjust="spacing" >Frequenza (MHz)</text>
<text transform="translate(286.1,297.6) rotate(-90)" font-size="9.6" font-weight="bold" text-anchor="middle">S<tspan font-size="6" dy="2">12</tspan><tspan dy="-2"> (a.u.)</tspan></text>
<text x="320.0" y="224.4" font-size="10.6" font-weight="bold" text-anchor="start" textLength="13.2" lengthAdjust="spacing" >(d)</text>
<rect x="336.8" y="224.4" width="32.1" height="6.3" fill="#000080"/>
<rect x="344.4" y="224.4" width="16.9" height="6.3" fill="#a9a832"/>
<rect x="347.1" y="224.4" width="11.5" height="6.3" fill="#7f7d00"/>
<rect x="336.8" y="268.1" width="32.1" height="6.4" fill="#000080"/>
<rect x="344.4" y="268.1" width="16.9" height="6.4" fill="#a9a832"/>
<rect x="347.1" y="268.1" width="11.5" height="6.4" fill="#7f7d00"/>
<rect x="329.2" y="233.1" width="6.1" height="33.6" fill="#000080"/>
<rect x="329.2" y="240.7" width="6.1" height="18.4" fill="#a9a832"/>
<rect x="329.2" y="244.3" width="6.1" height="11.2" fill="#7f7d00"/>
<rect x="370.1" y="233.1" width="6.1" height="33.6" fill="#000080"/>
<rect x="370.1" y="240.7" width="6.1" height="18.4" fill="#a9a832"/>
<rect x="370.1" y="244.3" width="6.1" height="11.2" fill="#7f7d00"/>
<path d="M390.5 272.7V231" stroke="#ff6a6a" stroke-width="0.9" fill="none"/>
<path d="M390.6 226.9l-2.6 5.3h5.2z" fill="#f21818"/>
<path d="M331 283.4H373.5" stroke="#1f3c78" stroke-width="1.0" fill="none"/>
<path d="M377.6 283.4l-5.6 -2.7v5.4z" fill="#1a3670"/>
<path d="M497.8 228.9H505.6M512.8 228.9H520.0" stroke="#ff9c9c" stroke-width="0.9" fill="none" opacity="0.85"/>
<circle cx="509.2" cy="228.9" r="1.15" fill="#fc0f0f"/>
<text x="525.2" y="232.3" font-size="10.2" font-weight="bold" text-anchor="start" >1</text>
<path d="M497.8 241.4H505.6M512.8 241.4H520.0" stroke="#7c7cd0" stroke-width="0.9" fill="none" opacity="0.85"/>
<circle cx="509.2" cy="241.4" r="1.15" fill="#08088e"/>
<text x="525.2" y="244.8" font-size="10.2" font-weight="bold" text-anchor="start" >2</text>
</svg>
</body></html>
